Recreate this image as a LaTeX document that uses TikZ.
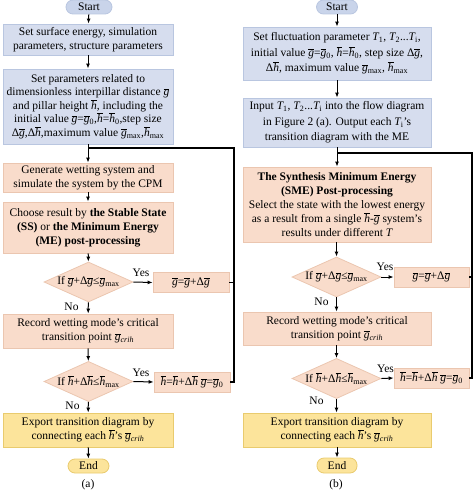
\documentclass[tikz,border=0pt]{standalone}
\usepackage{fontspec}
\setmainfont{Liberation Serif}
\usetikzlibrary{shapes.geometric,arrows.meta}
\definecolor{bluef}{HTML}{D6DDEE}
\definecolor{bluebd}{HTML}{B9C6E0}
\definecolor{startf}{HTML}{C9D4EA}
\definecolor{orf}{HTML}{F9DCCB}
\definecolor{orbd}{HTML}{EBC6B0}
\definecolor{yelf}{HTML}{FCE49B}
\definecolor{yelbd}{HTML}{E9CB6E}
\newcommand{\gb}{\ensuremath{\overline{\mbox{\itshape g}}}}
\newcommand{\hb}{\ensuremath{\overline{\mbox{\itshape h}}}}
\newcommand{\lsub}[1]{\textsubscript{#1}}
\newcommand{\ti}[1]{{\itshape #1}}
\begin{document}
\begin{tikzpicture}[x=1pt,y=-1pt,
  every node/.style={font=\fontsize{11.5}{14}\selectfont},
  boxbase/.style={align=center, inner xsep=1pt, inner ysep=1pt},
  bluebox/.style={boxbase, draw=bluebd, fill=bluef, line width=0.8pt},
  orbox/.style={boxbase, draw=orbd, fill=orf, line width=0.8pt},
  yelbox/.style={boxbase, draw=yelbd, fill=yelf, line width=0.8pt},
  wa/.style={minimum width=170pt},
  wb/.style={minimum width=188pt},
  term/.style={rounded corners=7pt, inner sep=0pt, line width=0.8pt},
  diam/.style={shape=diamond, draw=orbd, fill=orf, line width=0.8pt, aspect=2.2, inner sep=0pt, minimum width=89pt, minimum height=40pt},
  small/.style={orbox, inner sep=0pt, minimum height=20pt},
  arr/.style={-{Latex[length=5pt,width=4pt]}, line width=1pt},
  loopl/.style={line width=1.4pt},
  lab/.style={inner sep=0pt}
]
\useasboundingbox (0,0) rectangle (474,497);

% ---------- panel (a) ----------
\node[term, draw=bluebd, fill=startf, minimum width=46pt, minimum height=14pt] (sa) at (89,7) {Start};
\node[bluebox, wa, minimum height=31pt] (a1) at (88,39.5) {Set surface energy, simulation\\parameters, structure parameters};
\node[bluebox, wa, minimum height=75pt, font=\fontsize{11.5}{13.6}\selectfont] (a2) at (88,106.5) {Set parameters related to\\dimensionless interpillar distance \gb\\and pillar height \hb, including the\\initial value \gb=\gb\lsub{0},\hb=\hb\lsub{0},step size\\Δ\gb,Δ\hb,maximum value \gb\lsub{max},\hb\lsub{max}};
\node[orbox, wa, minimum height=29pt] (a3) at (88,177.5) {Generate wetting system and\\simulate the system by the CPM};
\node[orbox, wa, minimum height=51pt] (a4) at (88,227.5) {Choose result by \textbf{the Stable State}\\\textbf{(SS)} or \textbf{the Minimum Energy}\\\textbf{(ME) post-processing}};
\node[diam] (da1) at (88.5,282) {If \gb+Δ\gb≤\gb\lsub{max}};
\node[small, minimum width=76pt] (ga1) at (191,282.5) {\gb=\gb+Δ\gb};
\node[orbox, wa, minimum height=34pt] (a5) at (88,331) {Record wetting mode’s critical\\transition point \gb\lsub{\itshape crih}};
\node[diam] (da2) at (88.5,381.5) {If \hb+Δ\hb≤\hb\lsub{max}};
\node[small, minimum width=76pt] (ha2) at (192,382) {\hb=\hb+Δ\hb\ \gb=\gb\lsub{0}};
\node[yelbox, wa, minimum height=34pt] (a6) at (88,430) {Export transition diagram by\\connecting each \hb’s \gb\lsub{\itshape crih}};
\node[term, draw=yelbd, fill=yelf, minimum width=41pt, minimum height=14pt] (ea) at (88.5,466) {End};
\node[lab] (capa) at (88,485) {(a)};

\node[lab] (ya1) at (141,273) {Yes};
\node[lab] (na1) at (71.5,307) {No};
\node[lab] (ya2) at (141,373) {Yes};
\node[lab] (na2) at (72.5,406) {No};

\draw[arr] (sa) -- (a1);
\draw[arr] (a1) -- (a2);
\draw[arr] (a2) -- (a3);
\draw[arr] (a3) -- (a4);
\draw[arr] (a4) -- (da1);
\draw[arr] (da1.east) -- (ga1.west);
\draw[arr] (da1) -- (a5);
\draw[arr] (a5) -- (da2);
\draw[arr] (da2.east) -- (ha2.west);
\draw[arr] (da2) -- (a6);
\draw[arr] (a6) -- (ea);
\coordinate (la) at (234,148);
\coordinate (ja) at (88,148);
\draw[loopl] (ha2.east) -| (la) -- (ja);
\draw[loopl] (ga1.east) -- (ga1.east -| la);

% ---------- panel (b) ----------
\node[term, draw=bluebd, fill=startf, minimum width=41pt, minimum height=14pt] (sb) at (337,7) {Start};
\node[bluebox, wb, minimum height=53pt, font=\fontsize{11.5}{15.5}\selectfont] (b1) at (337,53.5) {Set fluctuation parameter \ti{T}\lsub{1}, \ti{T}\lsub{2}...\ti{T}\lsub{i},\\initial value \gb=\gb\lsub{0}, \hb=\hb\lsub{0}, step size Δ\gb,\\Δ\hb, maximum value \gb\lsub{max}, \hb\lsub{max}};
\node[bluebox, wb, minimum height=49pt, font=\fontsize{11.5}{15.5}\selectfont] (b2) at (337,122.5) {Input \ti{T}\lsub{1}, \ti{T}\lsub{2}...\ti{T}\lsub{i} into the flow diagram\\in Figure 2 (a). Output each \ti{T}\lsub{i}’s\\transition diagram with the ME};
\node[orbox, wb, minimum height=75pt] (b3) at (337,204.5) {\textbf{The Synthesis Minimum Energy}\\\textbf{(SME) Post-processing}\\Select the state with the lowest energy\\as a result from a single \hb-\gb\ system's\\results under different \ti{T}};
\node[diam] (db1) at (336.5,277) {If \gb+Δ\gb≤\gb\lsub{max}};
\node[small, minimum width=75pt] (gb1) at (431.5,277) {\gb=\gb+Δ\gb};
\node[orbox, wb, minimum height=33pt] (b4) at (337,328.5) {Record wetting mode’s critical\\transition point \gb\lsub{\itshape crih}};
\node[diam] (db2) at (336.5,378.5) {If \hb+Δ\hb≤\hb\lsub{max}};
\node[small, minimum width=75pt] (hb2) at (431.5,378) {\hb=\hb+Δ\hb\ \gb=\gb\lsub{0}};
\node[yelbox, wb, minimum height=34pt] (b5) at (337,430) {Export transition diagram by\\connecting each \hb’s \gb\lsub{\itshape crih}};
\node[term, draw=yelbd, fill=yelf, minimum width=40pt, minimum height=15pt] (eb) at (337,465.5) {End};
\node[lab] (capb) at (336,485) {(b)};

\node[lab] (yb1) at (385,267) {Yes};
\node[lab] (nb1) at (321.5,302) {No};
\node[lab] (yb2) at (385.5,369) {Yes};
\node[lab] (nb2) at (316.5,401) {No};

\draw[arr] (sb) -- (b1);
\draw[arr] (b1) -- (b2);
\draw[arr] (b2) -- (b3);
\draw[arr] (b3.south -| db1.north) -- (db1);
\draw[arr] (db1.east) -- (gb1.west);
\draw[arr] (db1) -- (db1.south |- b4.north);
\draw[arr] (b4.south -| db2.north) -- (db2);
\draw[arr] (db2.east) -- (hb2.west);
\draw[arr] (db2) -- (db2.south |- b5.north);
\draw[arr] (b5) -- (eb);
\coordinate (lb) at (472,153);
\coordinate (jb) at (337,153);
\draw[loopl] (hb2.east) -| (lb) -- (jb);
\draw[loopl] (gb1.east) -- (gb1.east -| lb);
\end{tikzpicture}
\end{document}
